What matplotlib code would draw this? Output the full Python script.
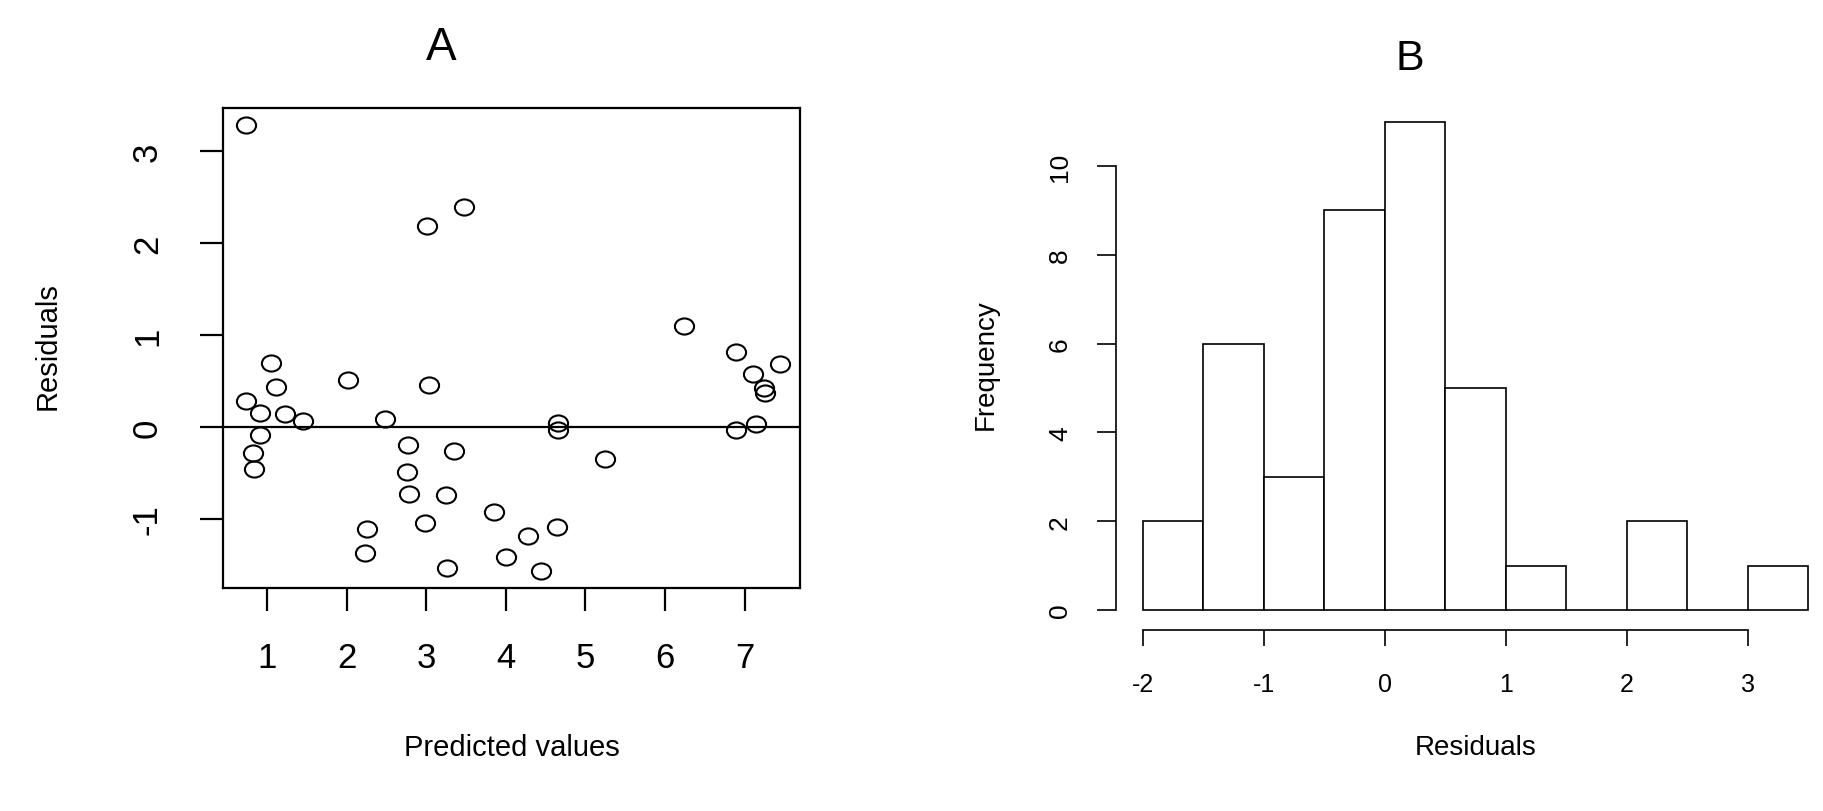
import matplotlib
matplotlib.use('Agg')

import numpy as np
import matplotlib.pyplot as plt
from matplotlib.path import Path

plt.rcParams['font.family'] = ['Liberation Sans', 'DejaVu Sans']
plt.rcParams['axes.unicode_minus'] = False

# fitted values and residuals of the model
predicted = [0.74, 3.01, 3.48, 6.24, 1.05, 1.11, 0.73, 0.91, 1.22, 1.45,
             2.02, 2.48, 3.04, 4.66, 4.65, 0.91, 0.82, 0.84, 2.77, 3.35,
             5.24, 2.76, 2.78, 3.25, 3.85, 2.25, 2.23, 2.98, 3.26, 4.00,
             4.28, 4.44, 4.64, 6.89, 7.45, 7.11, 7.25, 7.26, 7.14, 6.89]
residuals = [3.28, 2.18, 2.39, 1.10, 0.70, 0.44, 0.28, 0.15, 0.14, 0.07,
             0.51, 0.09, 0.46, 0.04, -0.03, -0.09, -0.28, -0.46, -0.20, -0.26,
             -0.35, -0.49, -0.73, -0.74, -0.92, -1.11, -1.37, -1.04, -1.53, -1.41,
             -1.19, -1.56, -1.09, 0.82, 0.68, 0.58, 0.42, 0.37, 0.03, -0.03]

a_xticks = [1, 2, 3, 4, 5, 6, 7]
a_yticks = [-1, 0, 1, 2, 3]
bin_edges = [-2, -1.5, -1, -0.5, 0, 0.5, 1, 1.5, 2, 2.5, 3, 3.5]
b_xticks = [-2, -1, 0, 1, 2, 3]
b_yticks = [0, 2, 4, 6, 8, 10]

W, H = 1823, 812


def px_axes(fig, x0, y0, x1, y1):
  # pixel box (top-left origin) -> figure axes
  return fig.add_axes([x0 / W, 1 - y1 / H, (x1 - x0) / W, (y1 - y0) / H])


def main():
  fig = plt.figure(figsize=(W / 100, H / 100), dpi=100)

  # slightly wide circles, the original picture is stretched sideways
  circ = Path.unit_circle()
  ellipse = Path(circ.vertices * np.array([1.19, 1.0]), circ.codes)

  # ---- A: residuals vs predicted
  ax = px_axes(fig, 223, 109, 800, 589)
  ax.plot(predicted, residuals, linestyle='none', marker=ellipse,
          markersize=13.8, markerfacecolor='none', markeredgecolor='black',
          markeredgewidth=1.5)
  ax.axhline(0, color='black', lw=1.6)
  ax.set_xlim(0.447, 7.696)
  ax.set_ylim(-1.75, 3.467)
  ax.set_xticks(a_xticks)
  ax.set_yticks(a_yticks)
  for s in ax.spines.values():
    s.set_linewidth(1.6)
  ax.tick_params(axis='both', length=16.5, width=1.6, labelsize=25, direction='out')
  ax.tick_params(axis='x', pad=22)
  ax.tick_params(axis='y', pad=26, labelrotation=90)
  for lab in ax.get_yticklabels():
    lab.set_verticalalignment('center')
  fig.text(441 / W, 1 - 59.5 / H, 'A', ha='center', va='baseline', fontsize=33)
  fig.text(512 / W, 1 - 748 / H, 'Predicted values', ha='center', va='center', fontsize=21)
  fig.text(48 / W, 1 - 346 / H, 'Residuals', ha='center', va='center',
           rotation=90, fontsize=21)

  # ---- B: histogram of residuals
  bx = px_axes(fig, 1116, 103, 1835, 631)
  bx.hist(residuals, bins=bin_edges, facecolor='white', edgecolor='black', linewidth=1.2)
  bx.set_xlim(-2.22, 3.72)
  bx.set_ylim(-0.45, 11.44)
  bx.set_xticks(b_xticks)
  bx.set_yticks(b_yticks)
  bx.spines['top'].set_visible(False)
  bx.spines['right'].set_visible(False)
  bx.spines['left'].set_bounds(0, 10)
  bx.spines['bottom'].set_bounds(-2, 3)
  bx.spines['left'].set_linewidth(1.2)
  bx.spines['bottom'].set_linewidth(1.2)
  bx.tick_params(axis='both', width=1.2, direction='out')
  bx.tick_params(axis='x', length=11.5, pad=19, labelsize=18)
  bx.tick_params(axis='y', length=13.7, pad=18, labelsize=19, labelrotation=90)
  for lab in bx.get_yticklabels():
    lab.set_verticalalignment('center')
  fig.text(1410 / W, 1 - 69.5 / H, 'B', ha='center', va='baseline', fontsize=31)
  fig.text(1476 / W, 1 - 748 / H, 'Residuals', ha='center', va='center', fontsize=20)
  fig.text(986 / W, 1 - 365 / H, 'Frequency', ha='center', va='center',
           rotation=90, fontsize=20)

  fig.savefig('out.png', dpi=100)


if __name__ == '__main__':
  main()
